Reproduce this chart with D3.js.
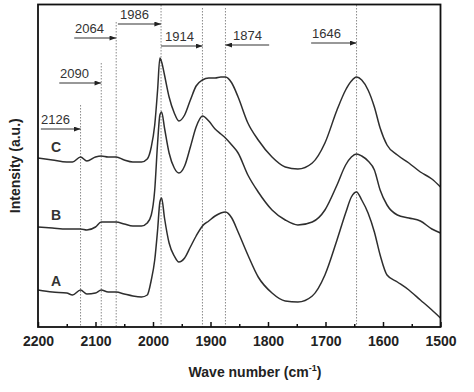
<!DOCTYPE html>
<html>
<head>
<meta charset="utf-8">
<script src="https://cdn.jsdelivr.net/npm/d3@7"></script>
<style>
  body { margin: 0; background: #fff; }
  svg { display: block; font-family: "Liberation Sans", Arial, sans-serif; }
</style>
</head>
<body>
<svg id="chart" width="474" height="392"></svg>
<script>
// wavenumber grid (cm-1) shared by the three spectra
const waves = [2200, 2175, 2150, 2140, 2126, 2115, 2100, 2090, 2078, 2064, 2050, 2035, 2020, 2010, 2003, 1997, 1992, 1988, 1985, 1980, 1972, 1963, 1955, 1945, 1935, 1925, 1914, 1903, 1892, 1882, 1874, 1863, 1852, 1835, 1817, 1793, 1770, 1748, 1723, 1701, 1680, 1665, 1655, 1646, 1637, 1626, 1615, 1605, 1593, 1575, 1555, 1535, 1515, 1500];

// intensities (a.u., stacked with offsets as in the figure)
const specA = [37, 35, 34, 32, 37, 33, 34, 37, 35, 35, 33, 31, 30, 32, 47, 67, 97, 125, 129, 109, 84, 71, 65, 69, 80, 91, 101, 106, 111, 114, 115, 109, 95, 72, 50, 34, 26, 25, 31, 52, 87, 114, 130, 135, 127, 114, 95, 72, 52, 45, 37, 27, 17, 9];
const specB = [100, 99, 98, 98, 98, 97, 100, 105, 105, 105, 103, 101, 101, 104, 112, 137, 184, 212, 215, 199, 174, 159, 154, 161, 180, 200, 211, 206, 198, 193, 189, 182, 174, 152, 135, 117, 107, 102, 105, 117, 142, 162, 170, 173, 171, 166, 157, 137, 122, 112, 109, 106, 98, 94];
const specC = [169, 167, 165, 165, 170, 166, 170, 171, 170, 170, 167, 165, 165, 168, 180, 202, 237, 269, 265, 252, 230, 214, 206, 212, 227, 241, 247, 249, 249, 250, 250, 244, 230, 204, 187, 170, 160, 158, 164, 184, 217, 237, 246, 250, 247, 237, 220, 199, 182, 172, 164, 155, 148, 140];

const seriesNames = ["A", "B", "C"];
const majorTicks = [2200, 2100, 2000, 1900, 1800, 1700, 1600, 1500];
const minorTicks = [2150, 2050, 1950, 1850, 1750, 1650, 1550];

// marked bands: peak position and where the arrow starts
const bandPeaks = [2126, 2090, 2064, 1986, 1914, 1874, 1646];
const arrowFrom = [2195, 2163, 2137, 2061, 1986, 1798, 1725];

// layout for the annotations (pixels)
const arrowY = [129, 83, 38, 24, 46, 45, 43];
const guideTop = [105, 63, 22, 5, 8, 8, 5];
const labelX = [41, 60, 75, 120, 165, 233, 312];
const curveLabelY = [286, 220, 152];

const svg = d3.select("#chart");
const margin = { top: 4.5, right: 33.5, bottom: 65, left: 38 };
const width = +svg.attr("width");
const height = +svg.attr("height");
const innerWidth = width - margin.left - margin.right;
const innerHeight = height - margin.top - margin.bottom;

const x = d3.scaleLinear().domain([2200, 1500]).range([margin.left, margin.left + innerWidth]);
const y = d3.scaleLinear().domain([0, 322.5]).range([margin.top + innerHeight, margin.top]);

const defs = svg.append("defs");
defs.append("marker")
    .attr("id", "arrow")
    .attr("viewBox", "0 0 8 6")
    .attr("refX", 8)
    .attr("refY", 3)
    .attr("markerWidth", 7)
    .attr("markerHeight", 5)
    .attr("markerUnits", "userSpaceOnUse")
    .attr("orient", "auto")
    .append("path")
    .attr("d", "M0,0L8,3L0,6Z")
    .attr("fill", "#222");

// dotted guide lines
svg.append("g").selectAll("line")
    .data(bandPeaks)
    .join("line")
    .attr("x1", d => x(d))
    .attr("x2", d => x(d))
    .attr("y1", (d, i) => guideTop[i])
    .attr("y2", y(0))
    .attr("stroke", "#8a8a8a")
    .attr("stroke-width", 1)
    .attr("stroke-dasharray", "1.5,1.5");

// spectra
const line = d3.line()
    .x((d, i) => x(waves[i]))
    .y(d => y(d))
    .curve(d3.curveMonotoneX);

svg.append("g").selectAll("path")
    .data([specA, specB, specC])
    .join("path")
    .attr("d", line)
    .attr("fill", "none")
    .attr("stroke", "#2e2e2e")
    .attr("stroke-width", 1.5)
    .attr("stroke-linejoin", "round");

// arrows with band labels
const anno = svg.append("g");
anno.selectAll("line")
    .data(bandPeaks)
    .join("line")
    .attr("x1", (d, i) => x(arrowFrom[i]))
    .attr("x2", d => x(d))
    .attr("y1", (d, i) => arrowY[i])
    .attr("y2", (d, i) => arrowY[i])
    .attr("stroke", "#333")
    .attr("stroke-width", 1.1)
    .attr("marker-end", "url(#arrow)");

anno.selectAll("text")
    .data(bandPeaks)
    .join("text")
    .attr("x", (d, i) => labelX[i])
    .attr("y", (d, i) => arrowY[i] - 5)
    .attr("font-size", 13)
    .attr("fill", "#333")
    .text(d => d);

// curve names
svg.append("g").selectAll("text")
    .data(seriesNames)
    .join("text")
    .attr("x", 56)
    .attr("y", (d, i) => curveLabelY[i])
    .attr("text-anchor", "middle")
    .attr("font-size", 14)
    .attr("font-weight", "bold")
    .attr("fill", "#333")
    .text(d => d);

// bottom axis, ticks inside
const xAxis = svg.append("g")
    .attr("transform", `translate(0,${y(0)})`)
    .call(d3.axisBottom(x).tickValues(majorTicks).tickSizeInner(-5).tickSizeOuter(0).tickPadding(9).tickFormat(d3.format("d")));
xAxis.select(".domain").remove();
xAxis.selectAll("line").attr("stroke", "#111").attr("stroke-width", 1.5);
xAxis.selectAll("text")
    .attr("font-size", 14)
    .attr("font-weight", "bold")
    .attr("font-family", "Liberation Sans, Arial, sans-serif")
    .attr("fill", "#222");

const xMinor = svg.append("g")
    .attr("transform", `translate(0,${y(0)})`)
    .call(d3.axisBottom(x).tickValues(minorTicks).tickSizeInner(-3).tickSizeOuter(0).tickFormat(""));
xMinor.select(".domain").remove();
xMinor.selectAll("line").attr("stroke", "#111").attr("stroke-width", 1.5);

// frame
svg.append("rect")
    .attr("x", margin.left)
    .attr("y", margin.top)
    .attr("width", innerWidth)
    .attr("height", innerHeight)
    .attr("fill", "none")
    .attr("stroke", "#111")
    .attr("stroke-width", 1.8);

// axis titles
const xTitle = svg.append("text")
    .attr("x", 255)
    .attr("y", 377)
    .attr("text-anchor", "middle")
    .attr("font-size", 14)
    .attr("font-weight", "bold")
    .attr("fill", "#222");
xTitle.append("tspan").text("Wave number (cm");
xTitle.append("tspan").attr("font-size", 9).attr("dy", -6).text("-1");
xTitle.append("tspan").attr("dy", 6).text(")");

svg.append("text")
    .attr("transform", `translate(20,${margin.top + innerHeight / 2}) rotate(-90)`)
    .attr("text-anchor", "middle")
    .attr("font-size", 14)
    .attr("font-weight", "bold")
    .attr("fill", "#222")
    .text("Intensity (a.u.)");
</script>
</body>
</html>
